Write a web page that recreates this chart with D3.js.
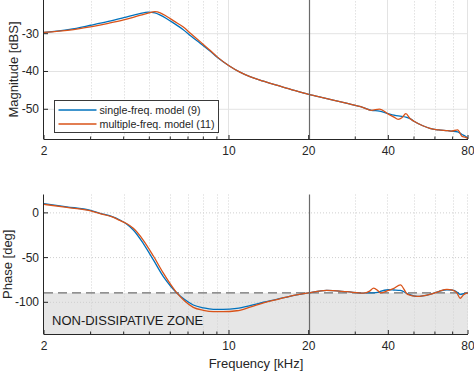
<!DOCTYPE html>
<html>
<head>
<meta charset="utf-8">
<script src="https://cdn.jsdelivr.net/npm/d3@7"></script>
<style>
  body { margin: 0; background: #fff; }
  svg { display: block; font-family: "Liberation Sans", Arial, sans-serif; }
  .tick-label { font-size: 12px; fill: #262626; }
  .axis-title { font-size: 13px; fill: #262626; }
</style>
</head>
<body>
<script>
const width = 474,
  height = 372,
  left = 44,
  right = 468;

// x ticks (kHz)
const majorTicks = [2, 10, 20, 40, 80];
const minorTicks = [3, 4, 5, 6, 7, 8, 9, 30, 50, 60, 70];
const magTicks = [-30, -40, -50];
const phaseTicks = [0, -50, -100];

// Magnitude [dBS]
const magFreq = [2, 2.5, 3, 3.5, 4, 4.6, 4.95, 5.25, 5.5, 5.8, 6.2, 6.7, 7.2, 7.8, 8.5, 9, 10, 11, 12, 13.5, 15, 17, 20, 23, 28, 32, 34.5, 37, 40, 42, 43.6, 45, 46.6, 48.3, 50, 54, 57.4, 62, 67, 69, 73.1, 76, 78, 80];
const magSingle = [-29.8, -29.0, -27.9, -26.9, -25.9, -24.8, -24.4, -24.6, -25.2, -26.1, -27.4, -29.0, -30.8, -32.7, -34.8, -36.3, -38.6, -40.3, -41.5, -42.7, -43.7, -44.8, -46.2, -47.2, -48.6, -49.6, -50.4, -50.6, -51.3, -51.7, -51.9, -52.0, -52.2, -52.6, -53.3, -54.5, -55.2, -55.6, -55.8, -55.9, -56.1, -56.8, -57.2, -57.8];
const magMultiple = [-29.8, -29.2, -28.3, -27.4, -26.5, -25.3, -24.7, -24.3, -24.6, -25.5, -26.8, -28.3, -30.2, -32.3, -34.6, -36.2, -38.6, -40.3, -41.5, -42.7, -43.7, -44.8, -46.2, -47.2, -48.6, -49.6, -50.4, -50.1, -51.4, -52.2, -52.8, -52.4, -51.3, -52.6, -53.3, -54.5, -55.2, -55.6, -55.8, -55.9, -55.6, -57.3, -57.5, -57.9];

// Phase [deg]
const phaseFreq = [2, 2.44, 3, 3.26, 3.6, 3.87, 4.1, 4.35, 4.74, 5.18, 5.65, 6.0, 6.34, 6.8, 7.33, 8, 8.72, 9.5, 10.7, 12, 13.5, 15, 16.5, 18, 20, 23.4, 27.9, 32.2, 34, 35.2, 36.5, 37.3, 40, 42, 44.4, 47.3, 51.4, 57.4, 62, 66.6, 70, 72.6, 74.7, 77, 80];
const phaseSingle = [9.7, 6.2, 2.2, -1, -4.5, -8.5, -13, -19.7, -34.6, -53.2, -71.9, -82, -89.8, -97.5, -103.6, -106.8, -108.4, -108.4, -107.3, -104.3, -100.5, -97.5, -94.7, -92.3, -89.9, -87.3, -88.7, -90.2, -90, -90, -89.5, -88.3, -86.5, -86.8, -87.3, -91, -94, -91.7, -88.5, -86.5, -87, -89, -91.7, -91, -90];
const phaseMultiple = [9.0, 5.5, 1.7, -1.3, -4.8, -9, -12.5, -17.8, -30.9, -48.8, -68, -80, -89.8, -99, -106.2, -109.5, -111, -111, -110, -106, -101.2, -97.8, -94.8, -92.3, -89.9, -87.3, -88.7, -90.2, -88, -84.7, -87.5, -90, -87.3, -85, -81, -91.7, -94, -91.7, -88.5, -86, -87, -90, -96, -92, -90];

const seriesNames = ["single-freq. model (9)", "multiple-freq. model (11)"];
const colors = ["#0072BD", "#D95319"];

const x = d3.scaleLog().domain([2, 80]).range([left, right]);
const yMag = d3.scaleLinear().domain([-58, -20]).range([139, -4.6]);
const yPhase = d3.scaleLinear().domain([-136, 20]).range([334, 194.5]);

const svg = d3
  .select("body")
  .append("svg")
  .attr("width", width)
  .attr("height", height);

function drawPanel(y, yTicks, series, freq, opts) {
  const y0 = y.range()[0],
    y1 = y.range()[1];
  const g = svg.append("g");
  const clipId = "clip-" + opts.id;

  g.append("clipPath")
    .attr("id", clipId)
    .append("rect")
    .attr("x", left)
    .attr("y", y1)
    .attr("width", right - left)
    .attr("height", y0 - y1);

  // Non-dissipative zone shading
  if (opts.zone) {
    g.append("rect")
      .attr("x", left)
      .attr("y", y(-90))
      .attr("width", right - left)
      .attr("height", y0 - y(-90))
      .attr("fill", "#e6e6e6");
  }

  // Grid
  const solid = opts.solidGrid;
  g.selectAll(".hgrid")
    .data(yTicks)
    .enter()
    .append("line")
    .attr("x1", left)
    .attr("x2", right)
    .attr("y1", (d) => y(d) + 0.5)
    .attr("y2", (d) => y(d) + 0.5)
    .attr("stroke", solid ? "#e3e3e3" : "#cfcfcf")
    .attr("stroke-dasharray", solid ? null : "1,2");

  g.selectAll(".vgrid-minor")
    .data(minorTicks)
    .enter()
    .append("line")
    .attr("x1", (d) => Math.round(x(d)) + 0.5)
    .attr("x2", (d) => Math.round(x(d)) + 0.5)
    .attr("y1", y1)
    .attr("y2", y0)
    .attr("stroke", "#d2d2d2")
    .attr("stroke-dasharray", "1,2");

  g.selectAll(".vgrid-major")
    .data([10, 40, 80])
    .enter()
    .append("line")
    .attr("x1", (d) => Math.round(x(d)) - 0.5)
    .attr("x2", (d) => Math.round(x(d)) - 0.5)
    .attr("y1", y1)
    .attr("y2", y0)
    .attr("stroke", solid ? "#e3e3e3" : "#d2d2d2")
    .attr("stroke-dasharray", solid ? null : "1,2");

  // -90 deg reference
  if (opts.zone) {
    g.append("line")
      .attr("x1", left)
      .attr("x2", right)
      .attr("y1", y(-90))
      .attr("y2", y(-90))
      .attr("stroke", "#6e6e6e")
      .attr("stroke-width", 1.3)
      .attr("stroke-dasharray", "9,5");
  }

  // Curves
  const line = d3
    .line()
    .x((d, i) => x(freq[i]))
    .y((d) => y(d))
    .curve(d3.curveMonotoneX);

  series.forEach((s, k) => {
    g.append("path")
      .attr("clip-path", `url(#${clipId})`)
      .attr("d", line(s))
      .attr("fill", "none")
      .attr("stroke", colors[k])
      .attr("stroke-width", 1.3);
  });

  // 20 kHz marker
  g.append("line")
    .attr("x1", Math.round(x(20)) + 0.5)
    .attr("x2", Math.round(x(20)) + 0.5)
    .attr("y1", y1)
    .attr("y2", y0)
    .attr("stroke", "#6a6a6a")
    .attr("stroke-width", 1.2);

  // Axes
  g.append("line")
    .attr("x1", left)
    .attr("x2", right)
    .attr("y1", y0 + 0.5)
    .attr("y2", y0 + 0.5)
    .attr("stroke", "#262626");
  g.append("line")
    .attr("x1", left - 0.5)
    .attr("x2", left - 0.5)
    .attr("y1", y1)
    .attr("y2", y0 + 0.5)
    .attr("stroke", "#262626");

  g.selectAll(".xtick")
    .data(majorTicks.concat(minorTicks))
    .enter()
    .append("line")
    .attr("x1", (d) => x(d))
    .attr("x2", (d) => x(d))
    .attr("y1", y0)
    .attr("y2", (d) => y0 - (majorTicks.includes(d) ? 4 : 2.5))
    .attr("stroke", "#262626");

  g.selectAll(".xlabel")
    .data(majorTicks)
    .enter()
    .append("text")
    .attr("class", "tick-label")
    .attr("x", (d) => x(d))
    .attr("y", y0 + 16)
    .attr("text-anchor", "middle")
    .text((d) => d);

  g.selectAll(".ytick")
    .data(yTicks)
    .enter()
    .append("line")
    .attr("x1", left)
    .attr("x2", left + 4)
    .attr("y1", (d) => y(d) + 0.5)
    .attr("y2", (d) => y(d) + 0.5)
    .attr("stroke", "#262626");

  g.selectAll(".ylabel")
    .data(yTicks)
    .enter()
    .append("text")
    .attr("class", "tick-label")
    .attr("x", left - 5)
    .attr("y", (d) => y(d) + 4.5)
    .attr("text-anchor", "end")
    .text((d) => d);

  g.append("text")
    .attr("class", "axis-title")
    .attr("transform", `translate(${opts.titleX},${(y0 + Math.max(y1, 0)) / 2}) rotate(-90)`)
    .attr("text-anchor", "middle")
    .text(opts.title);

  return g;
}

drawPanel(yMag, magTicks, [magSingle, magMultiple], magFreq, {
  id: "mag",
  solidGrid: true,
  title: "Magnitude [dBS]",
  titleX: 18,
});

const phasePanel = drawPanel(yPhase, phaseTicks, [phaseSingle, phaseMultiple], phaseFreq, {
  id: "phase",
  zone: true,
  solidGrid: false,
  title: "Phase [deg]",
  titleX: 12,
});

phasePanel
  .append("text")
  .attr("x", 52)
  .attr("y", 325)
  .attr("font-size", "13px")
  .attr("fill", "#1a1a1a")
  .text("NON-DISSIPATIVE ZONE");

svg
  .append("text")
  .attr("class", "axis-title")
  .attr("x", (left + right) / 2)
  .attr("y", 368)
  .attr("text-anchor", "middle")
  .text("Frequency [kHz]");

// Legend
const legend = svg.append("g").attr("transform", "translate(54.5,100.5)");
legend
  .append("rect")
  .attr("width", 164)
  .attr("height", 32)
  .attr("fill", "#fff")
  .attr("stroke", "#3a3a3a");
seriesNames.forEach((name, i) => {
  legend
    .append("line")
    .attr("x1", 4)
    .attr("x2", 42)
    .attr("y1", 9.5 + i * 14)
    .attr("y2", 9.5 + i * 14)
    .attr("stroke", colors[i])
    .attr("stroke-width", 1.3);
  legend
    .append("text")
    .attr("x", 45)
    .attr("y", 13.5 + i * 14)
    .attr("font-size", "10.7px")
    .attr("fill", "#262626")
    .text(name);
});
</script>
</body>
</html>
